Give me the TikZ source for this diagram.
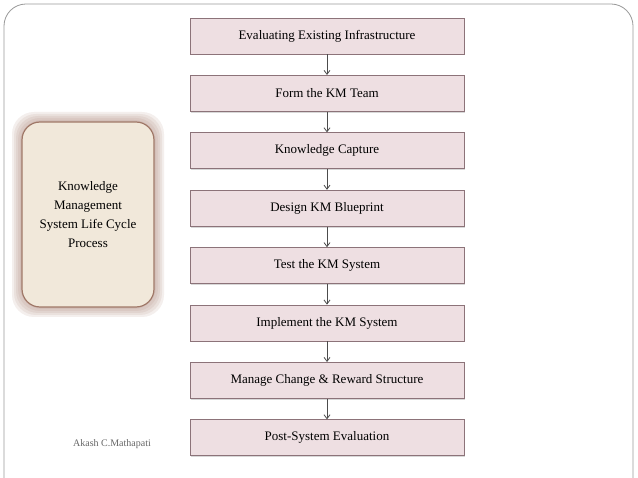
\documentclass[tikz,border=0pt]{standalone}
\usepackage{fontspec}
\setmainfont{Liberation Serif}
\usetikzlibrary{shadows,arrows.meta}
\definecolor{boxfill}{HTML}{EEDFE2}
\definecolor{boxline}{HTML}{8C7379}
\definecolor{leftfill}{HTML}{F1E8DA}
\definecolor{leftline}{HTML}{A07868}
\definecolor{glow}{HTML}{A87C70}
\tikzset{
  stepbox/.style={draw=boxline, fill=boxfill, line width=0.8pt, minimum width=274pt, minimum height=36pt,
    font=\fontsize{13}{15}\selectfont, drop shadow={shadow xshift=1pt, shadow yshift=-1.5pt, fill=gray!60}},
  arr/.style={-{Straight Barb[length=4pt,width=6pt]}, draw=gray!60!black, line width=0.8pt},
}
\begin{document}
\begin{tikzpicture}[x=1pt,y=-1pt]
\useasboundingbox (0,0) rectangle (638,478);
\fill[white] (0,0) rectangle (638,478);
\draw[gray!80, line width=0.8pt, rounded corners=22pt] (4,480) -- (4,4) -- (633,4) -- (633,480);
\foreach \i in {10,8,6,4,2}{
  \fill[glow, opacity=0.12, rounded corners=22pt] (22-\i,122-\i) rectangle (154+\i,307+\i);
}
\node[draw=leftline, fill=leftfill, line width=1.2pt, rounded corners=18pt, minimum width=132pt, minimum height=185pt,
  align=center, font=\fontsize{13}{19}\selectfont] (lc) at (88,214.5) {Knowledge\\Management\\System Life Cycle\\Process};
\foreach \n/\t [count=\k from 0] in {s1/Evaluating Existing Infrastructure, s2/Form the KM Team, s3/Knowledge Capture, s4/Design KM Blueprint, s5/Test the KM System, s6/Implement the KM System, s7/Manage Change \& Reward Structure, s8/Post-System Evaluation}{
  \node[stepbox] (\n) at (327, 36+57.4*\k) {\t};
}
\foreach \a/\b in {s1/s2,s2/s3,s3/s4,s4/s5,s5/s6,s6/s7,s7/s8}{
  \draw[arr] (\a) -- (\b);
}
\node[font=\fontsize{10}{11}\selectfont, text=gray!80!black] (auth) at (112,444) {Akash C.Mathapati};
\end{tikzpicture}
\end{document}
